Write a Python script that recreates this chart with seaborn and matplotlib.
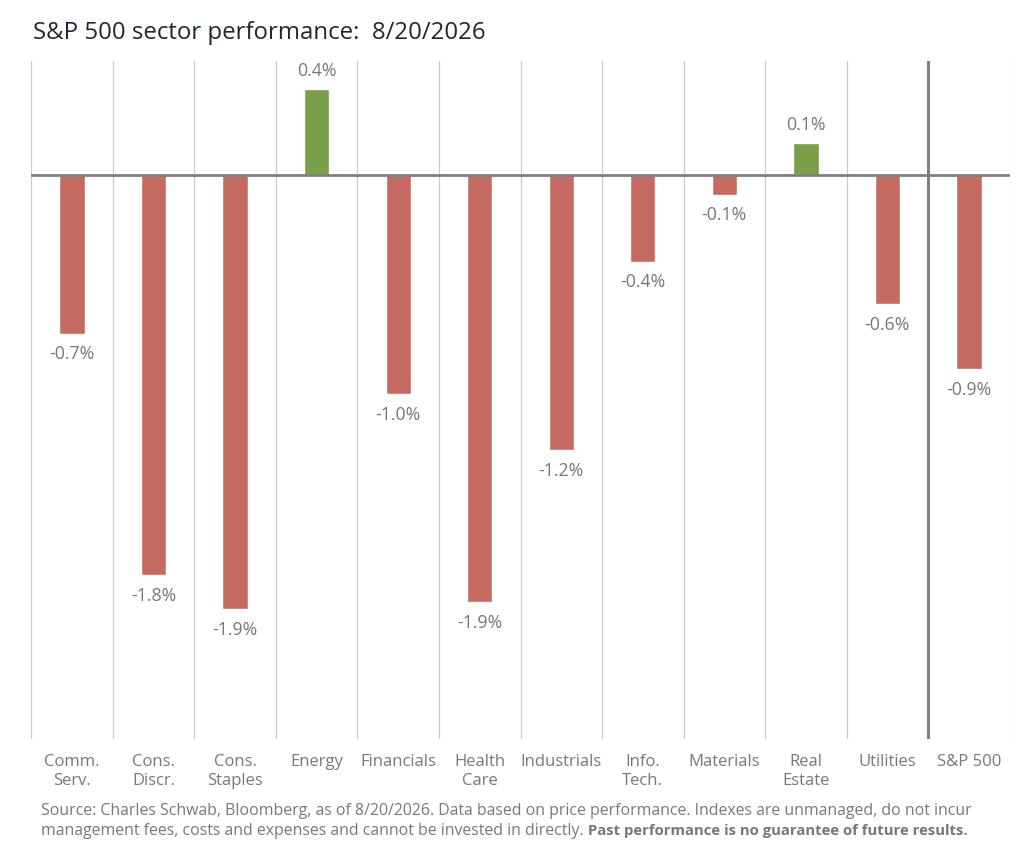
import numpy as np
import pandas as pd
import matplotlib
matplotlib.use("Agg")
import matplotlib.pyplot as plt
import seaborn as sns

categories = ["Comm.\nServ.", "Cons.\nDiscr.", "Cons.\nStaples", "Energy", "Financials",
              "Health\nCare", "Industrials", "Info.\nTech.", "Materials", "Real\nEstate",
              "Utilities", "S&P 500"]
values = [-0.71, -1.79, -1.94, 0.38, -0.98, -1.91, -1.23, -0.39, -0.09, 0.14, -0.58, -0.87]

title = "S&P 500 sector performance:  8/20/2026"
foot1 = ("Source: Charles Schwab, Bloomberg, as of 8/20/2026. Data based on price performance. "
         "Indexes are unmanaged, do not incur")
foot2a = "management fees, costs and expenses and cannot be invested in directly."
foot2b = " Past performance is no guarantee of future results."

RED = "#C46A60"
GREEN = "#7A9F48"
GRID = "#C9C9C9"
AXIS = "#7F7F7F"
LABEL = "#787878"

sns.set_theme(style="white")
plt.rcParams['font.family'] = ['Open Sans', 'DejaVu Sans']

df = pd.DataFrame({"cat": categories, "val": values})
df["sign"] = np.where(df["val"] >= 0, "pos", "neg")

W, H = 1030, 853
fig = plt.figure(figsize=(W / 100, H / 100), dpi=100)
ax = fig.add_axes([31.3 / W, 1 - 740 / H, (1009.7 - 31.3) / W, (740 - 62) / H])

sns.barplot(data=df, x="cat", y="val", hue="sign", palette={"pos": GREEN, "neg": RED},
            width=0.31, dodge=False, legend=False, ax=ax, saturation=1)

ax.set_xlim(-0.5, len(categories) - 0.5)
ax.set_ylim(-2.52, 0.507)

# vertical separators between categories
ax.set_xticks(np.arange(-0.5, len(categories)), minor=True)
ax.grid(which="minor", axis="x", color=GRID, lw=0.9)
ax.grid(which="major", axis="both", visible=False)
ax.tick_params(which="both", length=0)
ax.axvline(len(categories) - 1.5, color=AXIS, lw=2.2, zorder=3)
ax.axhline(0, color=AXIS, lw=2.0, zorder=3)

for s in ax.spines.values():
    s.set_visible(False)
ax.set_yticks([])
ax.set_xlabel("")
ax.set_ylabel("")
ax.set_xticks(range(len(categories)))
ax.set_xticklabels(categories, fontsize=12, color=LABEL, linespacing=1.25, va="top")
ax.tick_params(axis="x", pad=10)

for i, v in enumerate(values):
    ax.annotate(f"{v:.1f}%", (i, v), xytext=(0, 14 if v >= 0 else -14),
                textcoords="offset points", ha="center", va="center",
                fontsize=12.8, color=LABEL)

fig.text(33 / W, 1 - 33 / H, title, fontsize=17.3, color="#1C2833", va="center", ha="left")

fs = 11.4
fig.text(41 / W, 1 - 811.5 / H, foot1, fontsize=fs, color=LABEL, va="center", ha="left")
t2 = fig.text(41 / W, 1 - 831 / H, foot2a, fontsize=fs, color=LABEL, va="center", ha="left")
fig.canvas.draw()
bb = t2.get_window_extent()
fig.text(bb.x1 / W, 1 - 831 / H, foot2b, fontsize=10.7, color=LABEL, va="center", ha="left",
         fontweight="bold")

fig.savefig("out.png", dpi=100)
